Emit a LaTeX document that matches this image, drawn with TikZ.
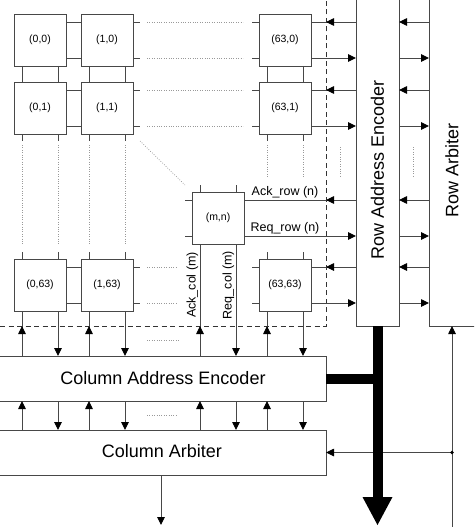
\documentclass[tikz,border=0pt]{standalone}
\usepackage{fontspec}
\setmainfont{Liberation Sans}
\usetikzlibrary{arrows.meta,calc}
\begin{document}
\begin{tikzpicture}[x=1pt,y=-1pt,
  ln/.style={draw=black!72, line width=0.9pt},
  cell/.style={draw=black!72, line width=0.9pt, fill=white, minimum width=52pt, minimum height=52pt, inner sep=0pt, outer sep=0pt, font=\fontsize{10.5}{12}\selectfont},
  block/.style={draw=black!72, line width=0.9pt, fill=white, inner sep=0pt, outer sep=0pt},
  dotln/.style={draw=black!40, line width=0.7pt, dash pattern=on 0.8pt off 1.6pt},
  dashln/.style={draw=black!80, line width=0.9pt, dash pattern=on 5pt off 3.5pt},
  arr/.style={ln, -{Triangle[length=8pt,width=7.5pt,color=black]}},
  big/.style={font=\fontsize{18}{20}\selectfont},
  sig/.style={font=\fontsize{12.5}{14}\selectfont, inner sep=1.5pt},
]
\useasboundingbox (0,0) rectangle (474,527);
\clip (0,0) rectangle (474,527);

% cells
\foreach \n/\x/\y/\t in {c00/40/40/{(0,0)}, c10/107/40/{(1,0)}, c630/285/40/{(63,0)},
  c01/40/108/{(0,1)}, c11/107/108/{(1,1)}, c631/285/108/{(63,1)},
  c063/40/285/{(0,63)}, c163/107/285/{(1,63)}, c6363/285/285/{(63,63)},
  cmn/218/218/{(m,n)}}{
  \node[cell] (\n) at (\x,\y) {\t};
  \coordinate (\n-t1) at ($(\n.north west)+(8,0)$);
  \coordinate (\n-t2) at ($(\n.north east)+(-8,0)$);
  \coordinate (\n-b1) at ($(\n.south west)+(8,0)$);
  \coordinate (\n-b2) at ($(\n.south east)+(-8,0)$);
  \coordinate (\n-l1) at ($(\n.north west)+(0,8)$);
  \coordinate (\n-l2) at ($(\n.south west)+(0,-8)$);
  \coordinate (\n-r1) at ($(\n.north east)+(0,8)$);
  \coordinate (\n-r2) at ($(\n.south east)+(0,-8)$);
}

% blocks
\node[block, minimum width=43pt, minimum height=346pt] (RAE) at (377.5,153) {};
\node[block, minimum width=70pt, minimum height=346pt] (RA) at (464,153) {};
\node[block, minimum width=330pt, minimum height=45pt] (CAE) at (161,378.5) {};
\node[block, minimum width=330pt, minimum height=45pt] (CA) at (161,452.5) {};
\node[big, rotate=90] (RAEt) at (377.5,170) {Row Address Encoder};
\node[big, rotate=90] (RAt) at (452,170) {Row Arbiter};
\node[big] (CAEt) at (163,378) {Column Address Encoder};
\node[big] (CAt) at (162,451.5) {Column Arbiter};

% dashed array boundary
\coordinate (dc) at (326,326);
\draw[dashln] (0,326) -- (dc) -- (326,0);

% neighbour connections
\foreach \r in {0,1,63}{
  \draw[ln] (c0\r-r1) -- (c1\r-l1);
  \draw[ln] (c0\r-r2) -- (c1\r-l2);
}
\foreach \c in {0,1,63}{
  \draw[ln] (c\c0-b1) -- (c\c1-t1);
  \draw[ln] (c\c0-b2) -- (c\c1-t2);
}

% row stubs and dotted continuations
\foreach \k in {1,2}{
  \foreach \r in {0,1}{
    \draw[ln] (c1\r-r\k) -- ++(7,0);
    \draw[dotln] ($(c1\r-r\k)+(14,0)$) -- ($(c63\r-l\k)+(-16,0)$);
    \draw[ln] (c63\r-l\k) -- ++(-7,0);
  }
  \draw[ln] (c163-r\k) -- ++(7,0);
  \draw[dotln] ($(c163-r\k)+(14,0)$) -- ++(31,0);
  \draw[ln] (c6363-l\k) -- ++(-7,0);
  \draw[ln] (cmn-l\k) -- ++(-7,0);
  % column stubs
  \foreach \c in {0,1}{
    \draw[ln] (c\c1-b\k) -- ++(0,7);
    \draw[dotln] ($(c\c1-b\k)+(0,11)$) -- ($(c\c63-t\k)+(0,-14)$);
    \draw[ln] (c\c63-t\k) -- ++(0,-7);
  }
  \draw[ln] (c631-b\k) -- ++(0,7);
  \draw[dotln] ($(c631-b\k)+(0,11)$) -- ++(0,33);
  \draw[ln] (c6363-t\k) -- ++(0,-7);
  \draw[ln] (cmn-t\k) -- ++(0,-7);
}
\draw[dotln] ($(c11.south east)+(7,7)$) -- ($(cmn.north west)+(-7,-7)$);

% rows to row address encoder and arbiter
\foreach \cc in {c630,c631,cmn,c6363}{
  \draw[ln] (\cc-r1) -- (RAE.west |- \cc-r1);
  \draw[arr] (RAE.west |- \cc-r1) -- (dc |- \cc-r1);
  \draw[arr] (\cc-r2) -- (RAE.west |- \cc-r2);
  \draw[arr] (RA.west |- \cc-r1) -- (RAE.east |- \cc-r1);
  \draw[arr] (RAE.east |- \cc-r2) -- (RA.west |- \cc-r2);
}

% columns to column address encoder and arbiter
\foreach \cc in {c063,c163,cmn,c6363}{
  \draw[ln] (\cc-b1) -- (CAE.north -| \cc-b1);
  \draw[arr] (CAE.north -| \cc-b1) -- (\cc-b1 |- dc);
  \draw[arr] (\cc-b2) -- (CAE.north -| \cc-b2);
  \draw[arr] (CA.north -| \cc-b1) -- (CAE.south -| \cc-b1);
  \draw[arr] (CAE.south -| \cc-b2) -- (CA.north -| \cc-b2);
}

% signal labels
\node[sig, above] (lar) at ($(cmn-r1)!0.5!(dc |- cmn-r1)$) {Ack\_row (n)};
\node[sig, above] (lrr) at ($(cmn-r2)!0.5!(dc |- cmn-r2)$) {Req\_row (n)};
\node[sig, rotate=90, anchor=south] (lac) at ($(cmn-b1)!0.5!(cmn-b1 |- dc)$) {Ack\_col (m)};
\node[sig, rotate=90, anchor=south] (lrc) at ($(cmn-b2)!0.5!(cmn-b2 |- dc)$) {Req\_col (m)};

% ellipsis dots
\draw[dotln] (340,147) -- (340,177);
\draw[dotln] (413,147) -- (413,177);
\draw[dotln] (147,340) -- (180,340);
\draw[dotln] (147,415) -- (177,415);

% outputs
\coordinate (raout) at (452,532);
\coordinate (jn) at (CA.east -| raout);
\draw[arr] (raout) -- (RA.south -| raout);
\draw[arr] (jn) -- (CA.east);
\fill (jn) circle (1.8pt);
\draw[arr] (CA.south) -- ++(0,50);

% thick bus
\draw[line width=10pt] (RAE.south) -- ++(0,172);
\draw[line width=10pt] (CAE.east) -- (RAE.south |- CAE.east);
\fill ($(RAE.south)+(-15,171)$) -- ++(30,0) -- ($(RAE.south)+(0,199)$) -- cycle;
\end{tikzpicture}
\end{document}
